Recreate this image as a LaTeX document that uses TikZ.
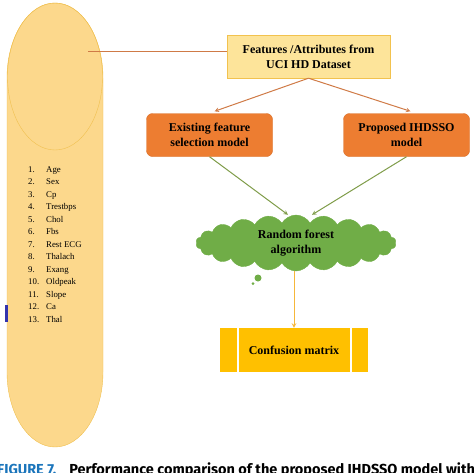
\documentclass[tikz,border=0pt]{standalone}
\usepackage{fontspec}
\setmainfont{Liberation Serif}
\newfontfamily\capfont{Fira Sans}
\usetikzlibrary{arrows,shapes,positioning,calc}

\definecolor{capsulefill}{HTML}{FCD88C}
\definecolor{capsuleline}{HTML}{F0C050}
\definecolor{featfill}{HTML}{FDE49A}
\definecolor{featline}{HTML}{F2C24E}
\definecolor{modelfill}{HTML}{ED7D31}
\definecolor{modelline}{HTML}{D86A22}
\definecolor{linkbrown}{HTML}{CF7A46}
\definecolor{linkgreen}{HTML}{7F9C49}
\definecolor{rfgreen}{HTML}{70AD47}
\definecolor{cmfill}{HTML}{FFC000}
\definecolor{linkgold}{HTML}{F6B73A}
\definecolor{capblue}{HTML}{1B75BB}

\begin{document}
\begin{tikzpicture}[x=1pt,y=-1pt,>=stealth,
    boxtext/.style={font=\bfseries\fontsize{12}{15}\selectfont,align=center,inner sep=0pt},
    model/.style={boxtext,rectangle,rounded corners=6pt,fill=modelfill,draw=modelline,minimum width=126pt,minimum height=43pt},
    item/.style={anchor=base west,inner sep=0pt,font=\fontsize{8.8}{10}\selectfont}]
    \useasboundingbox (0,0) rectangle (474,472);

    \draw[draw=capsuleline,fill=capsulefill] (7,78) -- (7,372) arc[start angle=180,end angle=0,x radius=48,y radius=75] -- (103,78) arc[start angle=0,end angle=-180,x radius=48,y radius=75] -- cycle;
    \node[ellipse,draw=capsuleline,minimum width=95pt,minimum height=147pt,inner sep=0pt] (attrs) at (55,76.5) {};
    \fill[blue!60!black!80] (5,305) rectangle (7.5,322);

    \foreach \name [count=\i] in {Age,Sex,Cp,Trestbps,Chol,Fbs,Rest ECG,Thalach,Exang,Oldpeak,Slope,Ca,Thal} {
        \node[item] (num\i) at (28,172+12.5*\i-12.5) {\i.};
        \node[item] (attr\i) at (46,172+12.5*\i-12.5) {\name};
    }

    \node[boxtext,rectangle,fill=featfill,draw=featline,minimum width=163pt,minimum height=43pt] (feat) at (308.5,56.5) {Features /Attributes from\\UCI HD Dataset};
    \node[model] (exist) at (209.5,135) {Existing feature\\selection model};
    \node[model] (prop) at (406.5,135) {Proposed IHDSSO\\model};
    \node[boxtext,cloud,cloud puffs=22,cloud puff arc=120,cloud ignores aspect,fill=rfgreen,draw=rfgreen,minimum width=200pt,minimum height=56pt] (rf) at (296,243) {Random forest\\algorithm};
    \node[circle,fill=rfgreen,inner sep=0pt,minimum size=7pt] (bub1) at (258,278) {};
    \node[circle,fill=rfgreen,inner sep=0pt,minimum size=3pt] (bub2) at (253,283.5) {};
    \node[boxtext,rectangle,fill=cmfill,minimum width=148pt,minimum height=44pt] (cm) at (294,350) {Confusion matrix};
    \draw[white,line width=1.5pt] ([xshift=18pt]cm.north west) -- ([xshift=18pt]cm.south west);
    \draw[white,line width=1.5pt] ([xshift=-17pt]cm.north east) -- ([xshift=-17pt]cm.south east);

    \coordinate (src) at (88,51);
    \draw[linkbrown,line width=1pt] (src) -- (src -| feat.west);
    \draw[->,linkbrown,line width=1pt] (feat.south) -- ([xshift=5pt,yshift=2pt]exist.north);
    \draw[->,linkbrown,line width=1pt] (feat.south) -- ([xshift=4pt,yshift=2pt]prop.north);
    \draw[->,linkgreen,line width=1pt] (exist.south) -- ([xshift=-8pt]rf.north);
    \draw[->,linkgreen,line width=1pt] (prop.south) -- ([xshift=16pt]rf.north);
    \draw[->,linkgold,line width=1pt] (cm.north |- rf.south) -- (cm.north);

    \node[anchor=north west,inner sep=0pt,font=\capfont\bfseries\fontsize{14.5}{17}\selectfont] (caption) at (-3,463) {\textcolor{capblue}{FIGURE 7.}\hspace{13pt}Performance comparison of the proposed IHDSSO model with};
\end{tikzpicture}
\end{document}
